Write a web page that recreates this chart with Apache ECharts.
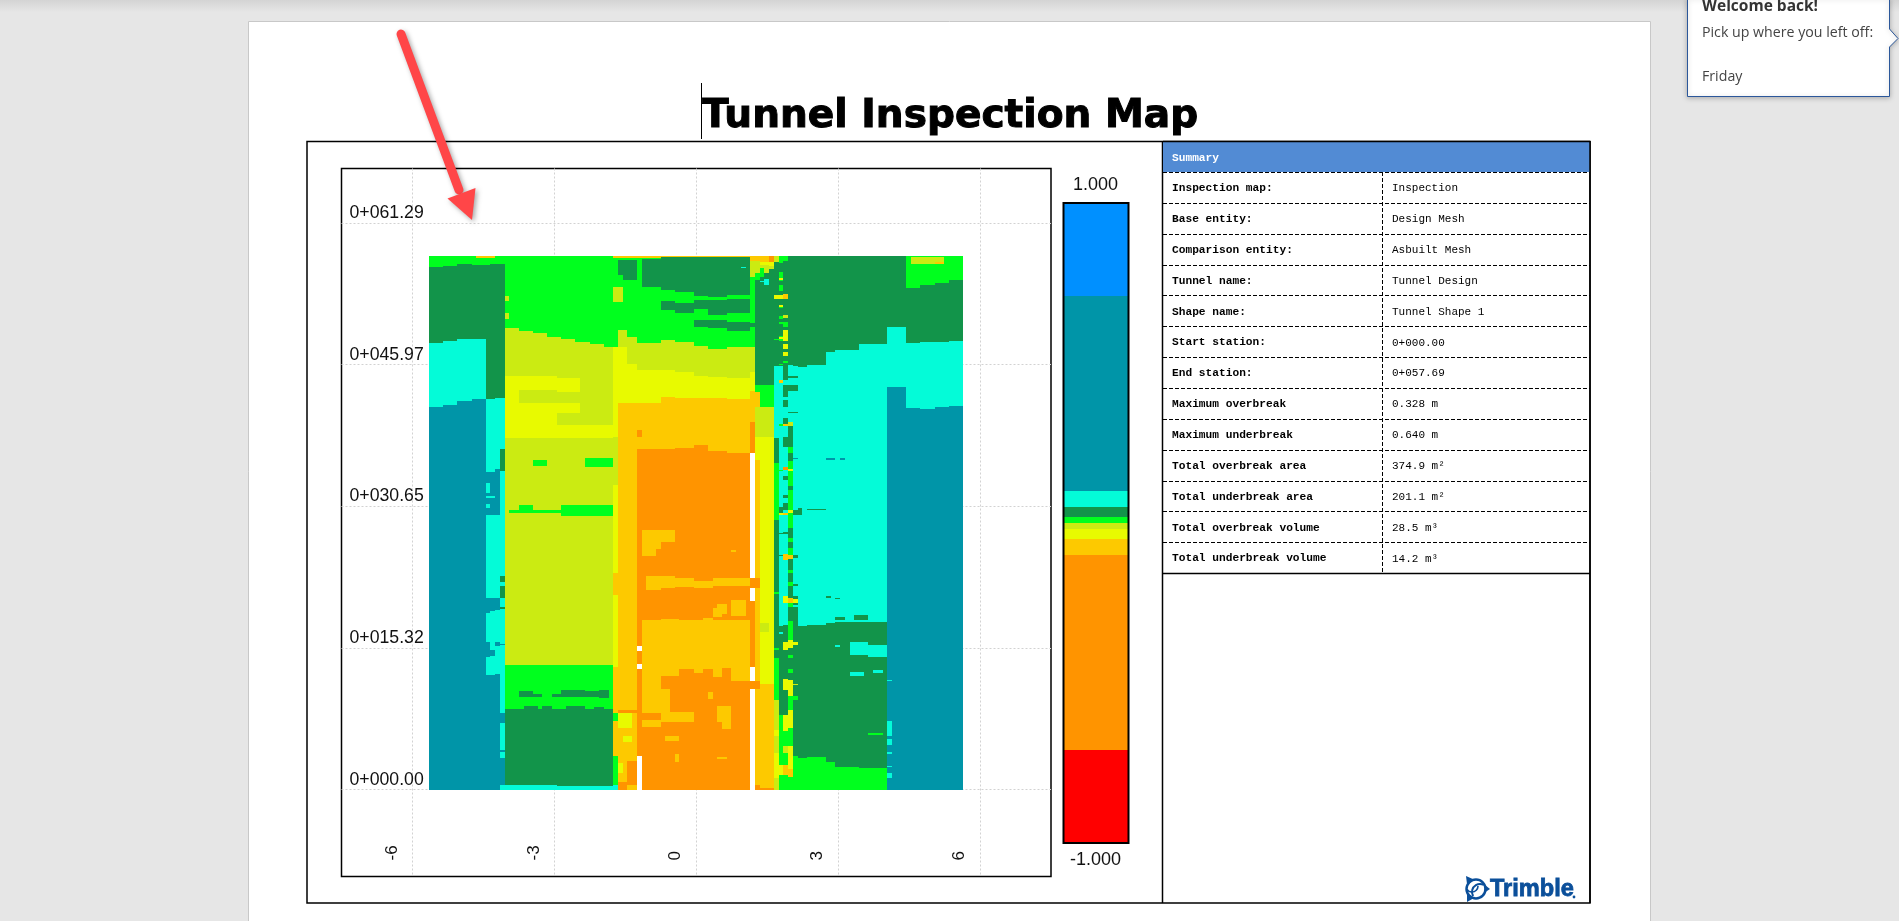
<!DOCTYPE html>
<html>
<head>
<meta charset="utf-8">
<title>Tunnel Inspection Map</title>
<script src="https://cdn.jsdelivr.net/npm/echarts@6/dist/echarts.min.js"></script>
<style>
html,body{margin:0;padding:0;width:100%;height:100%;overflow:hidden;background:#e6e6e6}
#chart{width:1899px;height:921px}
</style>
</head>
<body>
<div id="chart"></div>
<script>
// Tick labels of the developed tunnel surface
const offsetTicks = [-6, -3, 0, 3, 6];
const stationTicks = [0, 15.32, 30.65, 45.97, 61.29];

// Deviation scale: class boundaries from +1 m to -1 m and the colour of each class
const scaleStops = [1, 0.71, 0.1, 0.05, 0.02, 0, -0.02, -0.05, -0.1, -0.71, -1];
const scaleColors = ['#0090ff', '#0095a8', '#04fbd8', '#12944a', '#00ff1e', '#cbeb12', '#e8fa00', '#fdc900', '#ff9400', '#ff0000'];
const scaleLabels = ['1.000', '-1.000'];

// Representative deviation of every class used on the map (X: surface not measured)
const classValue = { T: 0.4, C: 0.075, D: 0.035, G: 0.01, L: -0.01, Y: -0.035, A: -0.075, O: -0.4, X: 9 };

// Surface grid: columns run across the tunnel, stations along it
const firstOffset = -5.65;
const columnStep = 0.0999;
const endStation = 57.69;

// Column runs: [first column, end column, class, upper station, class, upper station, ..., last class]
const columnRuns = [
  [0, 3, 'T', 41.4, 'C', 48.3, 'D', 56.5, 'G'],
  [3, 6, 'T', 41.6, 'C', 48.5, 'D', 56.7, 'G'],
  [6, 9, 'T', 42.0, 'C', 48.7, 'D', 56.9, 'G'],
  [9, 12, 'T', 42.3, 'C', 48.8, 'D', 56.8, 'G'],
  [12, 13, 'T', 12.4, 'C', 14.3, 'T', 16.0, 'C', 19.1, 'T', 20.7, 'C', 29.7, 'T', 34.4, 'C', 42.3, 'D', 56.8, 'G'],
  [13, 14, 'T', 12.4, 'C', 14.5, 'T', 15.1, 'C', 19.3, 'T', 20.7, 'C', 29.7, 'T', 34.4, 'C', 42.3, 'D', 56.9, 'G'],
  [14, 15, 'T', 12.5, 'C', 15.5, 'T', 16.0, 'C', 19.4, 'T', 20.7, 'C', 29.7, 'T', 34.7, 'C', 42.4, 'D', 56.9, 'G'],
  [15, 16, 'C', 0.5, 'T', 3.4, 'C', 4.1, 'T', 4.3, 'C', 7.2, 'T', 8.3, 'C', 34.5, 'D', 36.9, 'C', 42.4, 'D', 56.9, 'G'],
  [16, 19, 'C', 0.5, 'D', 8.7, 'G', 13.5, 'L', 38, 'Y', 44.7, 'L', 51, 'G'],
  [19, 27, 'C', 0.5, 'D', 8.7, 'G', 13.5, 'L', 38, 'Y', 41.8, 'L', 43.2, 'Y', 44.7, 'L', 51, 'G'],
  [27, 32, 'C', 0.4, 'D', 8.7, 'G', 13.5, 'L', 38, 'Y', 39.5, 'L', 40.7, 'Y', 41.8, 'L', 43.0, 'Y', 44.5, 'L', 51, 'G'],
  [32, 39, 'C', 0.4, 'D', 8.7, 'G', 13.5, 'L', 38, 'Y', 39.5, 'L', 51, 'G'],
  [39, 40, 'C', 0.5, 'G', 3.6, 'A', 7.4, 'G', 8.3, 'A', 13.3, 'Y', 21.1, 'A', 23.4, 'Y', 33, 'L', 38.2, 'Y', 47.9, 'G'],
  [40, 42, 'A', 41.8, 'Y', 47.9, 'L', 49.7, 'G'],
  [42, 44, 'A', 41.8, 'Y', 46.0, 'L', 49.0, 'G'],
  [44, 45, 'X', 3.6, 'O', 13.0, 'X', 13.6, 'O', 15.0, 'X', 15.5, 'O', 36.9, 'A', 38.2, 'O', 38.9, 'A', 41.8, 'Y', 45.4, 'L', 48.3, 'G'],
  [45, 49, 'O', 36.9, 'A', 41.8, 'Y', 45.4, 'L', 48.3, 'G', 54.4, 'D', 57.4, 'G'],
  [49, 52, 'O', 36.9, 'A', 42.5, 'Y', 45.4, 'L', 48.6, 'G', 51.9, 'D', 52.9, 'G', 54.1, 'D', 57.6, 'A'],
  [52, 56, 'O', 37.0, 'A', 42.4, 'Y', 45.2, 'L', 48.4, 'G', 51.6, 'D', 52.6, 'G', 53.8, 'D', 57.6, 'A'],
  [56, 59, 'O', 37.3, 'A', 42.4, 'Y', 44.8, 'L', 48.0, 'G', 50.0, 'D', 50.8, 'G', 52.0, 'D', 53.0, 'G', 53.4, 'D', 57.6, 'A'],
  [59, 63, 'O', 36.6, 'A', 42.4, 'Y', 44.6, 'L', 47.7, 'G', 49.9, 'D', 50.8, 'G', 51.3, 'D', 53.0, 'G', 53.3, 'D', 57.6, 'A'],
  [63, 68, 'O', 36.4, 'A', 42.3, 'Y', 44.5, 'L', 47.9, 'G', 49.6, 'D', 50.6, 'G', 51.6, 'D', 53.1, 'G', 53.5, 'D', 57.6, 'A'],
  [68, 69, 'X', 10.9, 'O', 11.7, 'X', 13.3, 'O', 20.4, 'X', 21.8, 'O', 22.9, 'X', 36.4, 'O', 39.8, 'A', 43.1, 'Y', 45.2, 'L', 47.9, 'G', 50.1, 'D', 50.5, 'G', 55.5, 'L', 57.2, 'A'],
  [69, 70, 'O', 0.5, 'A', 10.9, 'O', 11.7, 'A', 21.8, 'O', 22.9, 'A', 35.7, 'Y', 38.2, 'L', 41.4, 'A', 43.0, 'G', 43.8, 'D', 55.1, 'G', 55.9, 'L', 57.2, 'A'],
  [70, 71, 'O', 0.15, 'A', 11.4, 'Y', 38.2, 'L', 41.4, 'G', 43.8, 'D', 55.5, 'G', 56.4, 'L', 56.8, 'Y', 57.1, 'A'],
  [71, 72, 'O', 0.15, 'A', 11.4, 'Y', 38.2, 'L', 41.4, 'G', 43.8, 'D', 55.9, 'L', 56.8, 'Y', 57.1, 'A'],
  [72, 73, 'O', 0.15, 'A', 11.4, 'Y', 38.2, 'L', 41.4, 'G', 43.8, 'D', 56.3, 'L', 56.7, 'Y', 57.1, 'O'],
  [73, 74, 'L', 1.3, 'Y', 4, 'L', 5.8, 'Y', 6.5, 'L', 9.7, 'G', 14.2, 'D', 15.1, 'G', 15.3, 'D', 21.2, 'G', 21.4, 'D', 29.2, 'G', 35.3, 'D', 38, 'C', 45.8, 'D', 57.1, 'L'],
  [74, 75, 'G', 1.6, 'Y', 2.7, 'G', 8.1, 'D', 16.8, 'C', 17.1, 'D', 17.7, 'C', 45.8, 'D', 57, 'G'],
  [75, 76, 'G', 1.6, 'A', 2.7, 'G', 4, 'L', 4.7, 'G', 6.3, 'Y', 8.1, 'D', 10.8, 'Y', 12, 'D', 15.1, 'Y', 16, 'D', 17.8, 'C', 30.3, 'D', 31, 'C', 31.5, 'D', 31.9, 'C', 33.5, 'D', 33.9, 'C', 37.1, 'D', 38.2, 'C', 39.6, 'D', 40.2, 'C', 41.4, 'D', 42.2, 'C', 42.5, 'D', 43.8, 'C', 44.3, 'D', 57.2, 'G'],
  [76, 77, 'G', 1.4, 'A', 2.2, 'Y', 4.7, 'G', 6.7, 'Y', 8.6, 'G', 10.1, 'Y', 11.9, 'D', 12.6, 'G', 13, 'D', 14.2, 'G', 14.6, 'D', 15.3, 'Y', 16.2, 'G', 18.2, 'D', 19.8, 'G', 20.2, 'A', 20.7, 'D', 22, 'G', 22.5, 'D', 23.4, 'G', 23.8, 'D', 25, 'A', 25.4, 'G', 26.1, 'D', 26.8, 'G', 27.2, 'D', 28.3, 'G', 29.9, 'Y', 30.3, 'G', 32.4, 'D', 32.8, 'G', 35.5, 'D', 36.4, 'G', 37.1, 'D', 39.3, 'L', 39.8, 'C', 40.7, 'D', 40.9, 'C', 43.1, 'D', 43.8, 'C', 44.5, 'D', 44.8, 'C', 45.9, 'D'],
  [77, 78, 'G', 3.6, 'D', 19.8, 'C', 20, 'D', 20.9, 'C', 22, 'D', 22.2, 'C', 25.1, 'D', 25.4, 'C', 29.7, 'D', 30.3, 'C', 35.75, 'T', 35.9, 'C', 40.7, 'D', 40.9, 'C', 43.1, 'D', 43.8, 'C', 44.5, 'D', 44.8, 'C', 45.8, 'D'],
  [78, 80, 'G', 3.4, 'D', 17.7, 'C', 45.7, 'D'],
  [80, 84, 'G', 3.5, 'D', 17.8, 'C', 45.9, 'D'],
  [84, 86, 'G', 3.0, 'D', 18.0, 'C', 47.3, 'D'],
  [86, 91, 'G', 2.5, 'D', 18.1, 'C', 47.6, 'D'],
  [91, 97, 'G', 2.3, 'D', 18.1, 'C', 48.2, 'D'],
  [97, 101, 'T', 43.6, 'C', 50.0, 'D'],
  [101, 104, 'T', 41.3, 'C', 48.3, 'D', 54.3, 'G'],
  [104, 107, 'T', 41.2, 'C', 48.4, 'D', 54.6, 'G'],
  [107, 110, 'T', 41.4, 'C', 48.4, 'D', 54.8, 'G'],
  [110, 113, 'T', 41.5, 'C', 48.5, 'D', 55.1, 'G']
];

// Local patches laid over the runs: [first column, end column, low station, high station, class]
const localPatches = [
  [12, 13, 32.1, 33.2, 'C'], [12, 14, 31.6, 31.8, 'C'], [12, 13, 30.5, 30.9, 'C'],
  [15, 16, 22.5, 23.06, 'D'], [15, 16, 20.7, 22.0, 'D'], [15, 16, 19.5, 19.8, 'D'], [15, 16, 15.6, 15.75, 'T'],
  [16, 19, 49.9, 51, 'G'], [19, 22, 49.6, 51, 'G'], [22, 25, 49.4, 51, 'G'], [25, 28, 49.0, 51, 'G'],
  [28, 31, 48.7, 51, 'G'], [31, 34, 48.4, 51, 'G'], [34, 37, 48.2, 51, 'G'], [37, 39, 47.9, 51, 'G'],
  [16, 17, 52.9, 53.4, 'L'], [16, 17, 50.9, 51.6, 'L'], [39, 41, 52.8, 54.4, 'L'],
  [33, 39, 34.9, 35.9, 'G'], [22, 25, 35.0, 35.7, 'G'],
  [17, 28, 29.9, 30.2, 'G'], [19, 22, 30.1, 30.8, 'G'], [28, 39, 29.6, 30.8, 'G'],
  [19, 22, 10.0, 10.7, 'D'], [22, 24, 10.0, 10.3, 'D'], [26, 38, 10.0, 10.3, 'D'], [28, 33, 10.0, 10.8, 'D'], [33, 36, 10.0, 10.7, 'D'], [36, 38, 9.9, 10.8, 'D'],
  [20, 23, 8.7, 9.1, 'D'], [24, 26, 8.7, 9.0, 'D'], [29, 33, 8.7, 9.0, 'D'], [35, 37, 8.7, 8.95, 'D'],
  [40, 44, 55.7, 57.3, 'D'], [41, 44, 55.1, 57.3, 'D'],
  [10, 14, 57.55, 57.69, 'A'], [39, 49, 57.55, 57.69, 'A'],
  [40, 43, 6.7, 8.3, 'Y'], [41, 43, 5.1, 5.8, 'Y'], [40, 41, 1.8, 2.9, 'Y'], [40, 42, 0, 0.8, 'O'], [40, 44, 8.3, 8.6, 'O'], [42, 44, 0.5, 3.1, 'O'],
  [45, 49, 26, 28.1, 'A'], [45, 48, 25.3, 26, 'A'], [46, 49, 21.6, 23.1, 'A'], [45, 49, 8.3, 18.4, 'A'], [45, 49, 6.8, 7.5, 'A'],
  [49, 52, 26.8, 28.1, 'A'], [64, 65, 25.7, 25.9, 'A'],
  [49, 52, 21.8, 23.1, 'A'], [52, 56, 21.9, 22.9, 'A'], [56, 60, 21.8, 22.6, 'A'], [60, 68, 22, 22.9, 'A'],
  [61, 63, 19, 20.1, 'A'], [64, 67, 18.8, 20.5, 'A'], [60, 62, 18.7, 19.7, 'A'],
  [49, 53, 12.3, 18.5, 'A'], [53, 56, 13.1, 18.4, 'A'], [56, 58, 12.6, 18.4, 'A'], [58, 60, 13, 18.6, 'A'], [60, 62, 12.2, 18.4, 'A'], [62, 64, 13.2, 18.4, 'A'], [64, 68, 11.8, 18.4, 'A'],
  [49, 51, 8.3, 10.9, 'A'], [49, 56, 7.3, 8.4, 'A'], [61, 64, 7.3, 9, 'A'], [62, 64, 6.6, 7.3, 'A'], [59, 60, 9.8, 10.6, 'A'], [52, 53, 3, 3.9, 'A'], [50, 53, 5.3, 5.8, 'A'], [61, 63, 3.3, 3.5, 'A'],
  [66, 67, 56.4, 56.55, 'C'], [71, 72, 54.6, 55.2, 'C'], [70, 71, 54.95, 55.05, 'C'], [70, 72, 17.1, 18, 'L'],
  [73, 75, 53.05, 53.5, 'Y'], [73, 74, 48.6, 48.8, 'G'],
  [74, 75, 55, 56, 'G'], [74, 75, 55.1, 55.3, 'Y'], [74, 75, 53.9, 54.6, 'G'], [74, 75, 52.1, 52.4, 'G'], [74, 75, 52.2, 52.4, 'Y'], [74, 75, 50.9, 51.2, 'G'], [74, 75, 50.4, 50.6, 'G'],
  [74, 75, 48.5, 49.1, 'G'], [74, 75, 48.7, 49, 'Y'], [74, 75, 45.9, 46, 'G'], [74, 75, 44, 44.3, 'A'], [74, 75, 39.3, 39.6, 'G'], [74, 75, 34.5, 34.6, 'G'],
  [74, 75, 29.9, 30.6, 'D'], [74, 75, 29.7, 29.9, 'Y'], [74, 75, 27.7, 27.8, 'D'], [74, 75, 25.3, 25.4, 'D'],
  [75, 76, 53.05, 53.6, 'A'], [75, 76, 51, 51.4, 'L'], [75, 76, 50, 50.6, 'G'], [75, 76, 48.5, 49.7, 'Y'], [75, 76, 47.7, 48.2, 'Y'], [75, 76, 46.9, 47.4, 'Y'], [75, 76, 46.2, 46.4, 'G'],
  [75, 76, 39.3, 39.6, 'A'], [75, 76, 34.6, 34.9, 'O'], [75, 76, 29.7, 29.9, 'A'], [75, 76, 24.8, 25.5, 'A'], [75, 76, 20.2, 21, 'Y'], [75, 76, 27.7, 27.9, 'D'],
  [76, 77, 34.5, 34.65, 'Y'], [77, 78, 15.7, 16, 'Y'], [77, 78, 20.2, 20.6, 'Y'], [77, 78, 9.7, 10.1, 'G'], [77, 78, 11.3, 11.4, 'L'],
  [78, 79, 29.7, 30.5, 'D'], [80, 84, 30.2, 30.4, 'D'], [84, 85, 20.7, 21, 'D'], [86, 87, 20.6, 20.75, 'D'], [86, 88, 18.4, 18.7, 'D'], [90, 93, 18.4, 18.9, 'D'],
  [89, 93, 14.6, 16, 'C'], [93, 97, 14.4, 15.6, 'C'], [89, 92, 12.3, 12.7, 'C'], [94, 96, 12.6, 12.9, 'C'], [86, 87, 15.4, 15.6, 'C'],
  [84, 86, 35.7, 35.85, 'T'], [87, 88, 35.7, 35.85, 'T'], [93, 96, 5.9, 6.1, 'G'],
  [97, 98, 5.8, 7.4, 'C'], [97, 98, 4.8, 5.5, 'C'], [97, 98, 3.8, 4.1, 'C'], [97, 98, 1.3, 1.8, 'C'], [97, 98, 2.5, 2.6, 'C'], [97, 98, 11.8, 11.9, 'C'],
  [102, 109, 56.9, 57.6, 'L'], [107, 109, 56.9, 57.1, 'A']
];

// Summary table of the inspection
const summaryTitle = 'Summary';
const summaryNames = ['Inspection map:', 'Base entity:', 'Comparison entity:', 'Tunnel name:', 'Shape name:', 'Start station:', 'End station:', 'Maximum overbreak', 'Maximum underbreak', 'Total overbreak area', 'Total underbreak area', 'Total overbreak volume', 'Total underbreak volume'];
const summaryValues = ['Inspection', 'Design Mesh', 'Asbuilt Mesh', 'Tunnel Design', 'Tunnel Shape 1', '0+000.00', '0+057.69', '0.328 m', '0.640 m', '374.9 m²', '201.1 m²', '28.5 m³', '14.2 m³'];

function colourOf(v) {
  for (let i = 0; i < scaleColors.length; i++) {
    if (v <= scaleStops[i] && v > scaleStops[i + 1]) return scaleColors[i];
  }
  return '#ffffff';
}

// Expand runs and patches into rectangles in map units
const toOffset = c => firstOffset + c * columnStep;
const surfaceCells = [];
columnRuns.forEach(run => {
  let low = 0;
  for (let i = 2; i < run.length; i += 2) {
    const high = i + 1 < run.length ? run[i + 1] : endStation;
    surfaceCells.push([toOffset(run[0]), toOffset(run[1]), low, high, classValue[run[i]]]);
    low = high;
  }
});
localPatches.forEach(p => surfaceCells.push([toOffset(p[0]), toOffset(p[1]), p[2], p[3], classValue[p[4]]]));

const scaleCells = scaleColors.map((c, i) => [0, 1, scaleStops[i + 1], scaleStops[i], (scaleStops[i] + scaleStops[i + 1]) / 2]);

function renderBlock(params, api) {
  const a = api.coord([api.value(0), api.value(2)]);
  const b = api.coord([api.value(1), api.value(3)]);
  const x = Math.round(a[0]), y = Math.round(b[1]);
  return {
    type: 'rect',
    shape: { x, y, width: Math.round(b[0]) - x, height: Math.max(1, Math.round(a[1]) - y) },
    style: { fill: colourOf(api.value(4)) }
  };
}

const stationLabel = v => '0+' + (v < 10 ? '00' : '0') + v.toFixed(2);
const gridStyle = { show: true, lineStyle: { color: '#d2d2d2', width: 1, type: [2, 2] } };

// Page furniture: sheet, frames, table, title, note and pointer
const shapes = [];
const box = (x, y, width, height, fill, stroke, lineWidth, z) => shapes.push({ type: 'rect', z, silent: true, shape: { x, y, width, height }, style: { fill: fill || 'transparent', stroke: stroke || null, lineWidth: lineWidth || 0 } });
const rule = (x1, y1, x2, y2, stroke, lineWidth, lineDash, z) => shapes.push({ type: 'line', z, silent: true, shape: { x1, y1, x2, y2 }, style: { stroke, lineWidth, lineDash: lineDash || null } });
const label = (text, x, y, font, fill, align, z, extra) => shapes.push({ type: 'text', z, silent: true, x, y, style: Object.assign({ text, font, fill, align: align || 'left', verticalAlign: 'middle' }, extra || {}) });

shapes.push({ type: 'rect', z: -20, silent: true, shape: { x: 0, y: 0, width: 1899, height: 12 }, style: { fill: new echarts.graphic.LinearGradient(0, 0, 0, 1, [{ offset: 0, color: '#d4d4d4' }, { offset: 1, color: '#e6e6e6' }]) } });
box(248.5, 21.5, 1402, 910, '#ffffff', '#c8c8c8', 1, -19);
box(307, 141.5, 1283, 761.5, null, '#000000', 1.5, -18);
rule(1162.5, 141, 1162.5, 903, '#000000', 1.5, null, -18);

// Scale bar frame and end labels
box(1063.5, 203, 65, 640, null, '#000000', 2, 10);
label(scaleLabels[0], 1095.5, 185, '18px "Liberation Sans"', '#111111', 'center', 10);
label(scaleLabels[1], 1095.5, 860, '18px "Liberation Sans"', '#111111', 'center', 10);

// Summary table
const tableLeft = 1163, tableRight = 1590, tableTop = 142, headRow = 30, rowHeight = 30.85, splitX = 1382.5;
box(tableLeft, tableTop, tableRight - tableLeft, headRow, '#528bd4', null, 0, -5);
rule(tableRight, tableTop - 1, tableRight, 903, '#000000', 1.5, null, -4);
rule(tableLeft, tableTop - 0.5, tableRight, tableTop - 0.5, '#000000', 1.5, null, -4);
label(summaryTitle, 1172, tableTop + 16, 'bold 11.2px "Liberation Mono"', '#ffffff', 'left', 5);
const firstRow = tableTop + headRow;
summaryNames.forEach((name, i) => {
  const top = firstRow + i * rowHeight, mid = top + rowHeight / 2 + 1;
  rule(tableLeft, Math.round(top) + 0.5, tableRight, Math.round(top) + 0.5, '#000000', 1, [4, 2], -4);
  label(name, 1172, mid, 'bold 11.2px "Liberation Mono"', '#000000', 'left', 5);
  label(summaryValues[i], 1392, mid, '11px "Liberation Mono"', '#000000', 'left', 5);
});
const tableEnd = Math.round(firstRow + summaryNames.length * rowHeight) + 0.5;
rule(splitX, firstRow, splitX, tableEnd, '#000000', 1, [4, 2], -4);
rule(tableLeft, tableEnd, tableRight, tableEnd, '#000000', 1.5, null, -4);

// Title and text cursor
label('Tunnel Inspection Map', 702, 116.5, 'bold 39.1px "DejaVu Sans"', '#000000', 'left', 5, { stroke: '#000000', lineWidth: 1 });
rule(701.5, 83, 701.5, 139, '#000000', 1, null, 5);

// Manufacturer mark
shapes.push({ type: 'circle', z: 5, silent: true, shape: { cx: 1476, cy: 889, r: 9.5 }, style: { fill: 'transparent', stroke: '#0b4f9a', lineWidth: 2.5 } });
shapes.push({ type: 'arc', z: 5, silent: true, shape: { cx: 1480, cy: 892, r: 8, startAngle: 2.6, endAngle: 5.2 }, style: { stroke: '#0b4f9a', lineWidth: 2, fill: null } });
shapes.push({ type: 'arc', z: 5, silent: true, shape: { cx: 1472, cy: 886, r: 6, startAngle: 0, endAngle: 2.6 }, style: { stroke: '#0b4f9a', lineWidth: 1.6, fill: null } });
shapes.push({ type: 'polygon', z: 5, silent: true, shape: { points: [[1466, 876], [1475, 880], [1467, 884]] }, style: { fill: '#0b4f9a' } });
shapes.push({ type: 'polygon', z: 5, silent: true, shape: { points: [[1485, 885], [1490, 889], [1484, 893]] }, style: { fill: '#0b4f9a' } });
shapes.push({ type: 'polygon', z: 5, silent: true, shape: { points: [[1467, 894], [1474, 898], [1467, 902]] }, style: { fill: '#0b4f9a' } });
label('Trimble', 1490, 889, 'bold 23.6px "Liberation Sans Narrow","Liberation Sans"', '#0b4f9a', 'left', 5, { stroke: '#0b4f9a', lineWidth: 0.8 });
shapes.push({ type: 'circle', z: 5, silent: true, shape: { cx: 1574, cy: 897, r: 1.4 }, style: { fill: '#0b4f9a' } });

// Resume note at the top right corner
shapes.push({ type: 'polygon', z: 20, silent: true, shape: { points: [[1687.5, -2], [1889.5, -2], [1889.5, 29], [1898, 38.5], [1889.5, 47], [1889.5, 96.5], [1687.5, 96.5]] }, style: { fill: '#ffffff', stroke: '#2b579a', lineWidth: 1, shadowBlur: 5, shadowColor: 'rgba(0,0,0,0.25)', shadowOffsetY: 1 } });
label('Welcome back!', 1702, 7, 'bold 15.5px "Open Sans"', '#333333', 'left', 21);
label('Pick up where you left off:', 1702, 33, '14.2px "Open Sans"', '#444444', 'left', 21);
label('Friday', 1702, 77, '14.2px "Open Sans"', '#444444', 'left', 21);

// Red pointer
const arrowShadow = { shadowBlur: 5, shadowColor: 'rgba(0,0,0,0.35)', shadowOffsetX: 2, shadowOffsetY: 2 };
shapes.push({ type: 'line', z: 30, silent: true, shape: { x1: 401, y1: 34, x2: 459, y2: 190 }, style: Object.assign({ stroke: '#ff4648', lineWidth: 9, lineCap: 'round' }, arrowShadow) });
shapes.push({ type: 'polygon', z: 31, silent: true, shape: { points: [[472, 220], [447.5, 198.5], [475.5, 188]] }, style: Object.assign({ fill: '#ff4648' }, arrowShadow) });

const option = {
  backgroundColor: '#e6e6e6',
  animation: false,
  grid: [
    { left: 341.5, top: 168.5, width: 709.5, height: 708, show: true, backgroundColor: '#ffffff', borderColor: '#000000', borderWidth: 1.5 },
    { left: 1064, top: 203, width: 64, height: 640, show: false }
  ],
  xAxis: [
    {
      gridIndex: 0, type: 'value', min: -7.5, max: 7.5,
      axisLine: { show: false }, axisTick: { show: false, customValues: offsetTicks },
      splitLine: gridStyle,
      axisLabel: { customValues: offsetTicks, inside: true, rotate: 90, margin: 16, color: '#111111', fontFamily: 'Liberation Sans', fontSize: 17, verticalAlign: 'bottom', padding: [0, 0, 12, 0] }
    },
    { gridIndex: 1, type: 'value', min: 0, max: 1, show: false }
  ],
  yAxis: [
    {
      gridIndex: 0, type: 'value', min: -9.4, max: 67.2,
      axisLine: { show: false }, axisTick: { show: false, customValues: stationTicks },
      splitLine: gridStyle,
      axisLabel: { customValues: stationTicks, inside: true, margin: 8, color: '#111111', fontFamily: 'Liberation Sans', fontSize: 17.7, verticalAlign: 'bottom', padding: [0, 0, 1, 0], formatter: stationLabel }
    },
    { gridIndex: 1, type: 'value', min: -1, max: 1, show: false }
  ],
  series: [
    { name: 'Deviation', type: 'custom', xAxisIndex: 0, yAxisIndex: 0, renderItem: renderBlock, data: surfaceCells, encode: { x: [0, 1], y: [2, 3] }, progressive: 0, silent: true },
    { name: 'Scale', type: 'custom', xAxisIndex: 1, yAxisIndex: 1, renderItem: renderBlock, data: scaleCells, encode: { x: [0, 1], y: [2, 3] }, progressive: 0, silent: true }
  ],
  graphic: { elements: shapes }
};

echarts.init(document.getElementById('chart')).setOption(option);
</script>
</body>
</html>
